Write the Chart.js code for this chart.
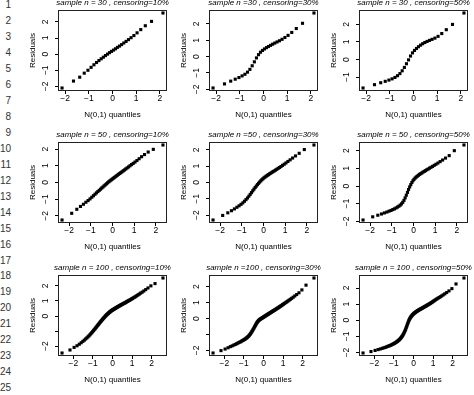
<!DOCTYPE html>
<html>
<head>
<meta charset="utf-8">
<script src="https://cdn.jsdelivr.net/npm/chart.js@4"></script>
<style>
  body { margin: 0; background: #fff; }
  #page { position: relative; width: 474px; height: 395px; overflow: hidden; background: #fff; }
  #page canvas { position: absolute; }
  #lines {
    position: absolute; left: 0; top: -3px; width: 11px; text-align: right;
    font-family: 'Liberation Sans', Arial, sans-serif; font-size: 10px; line-height: 15.97px; color: #333;
  }
</style>
</head>
<body>
<div id="page"><div id="lines"></div></div>
<script>
// manuscript line numbers down the left margin
const lineNumbers = ['1', '2', '3', '4', '5', '6', '7', '8', '9', '10', '11', '12', '13',
    '14', '15', '16', '17', '18', '19', '20', '21', '22', '23', '24', '25'];

const titles = [
    'sample n = 30 , censoring=10%', 'sample n =30 , censoring=30%', 'sample n = 30 , censoring=50%',
    'sample n = 50 , censoring=10%', 'sample n =50 , censoring=30%', 'sample n = 50 , censoring=50%',
    'sample n = 100 , censoring=10%', 'sample n =100 , censoring=30%', 'sample n = 100 , censoring=50%'
];

const tickValues = [-2, -1, 0, 1, 2];

// theoretical N(0,1) quantiles
const q30 = [-2.128, -1.645, -1.383, -1.192, -1.036, -0.903, -0.783, -0.674, -0.573, -0.477,
    -0.385, -0.297, -0.210, -0.126, -0.042, 0.042, 0.126, 0.210, 0.297, 0.385,
    0.477, 0.573, 0.674, 0.783, 0.903, 1.036, 1.192, 1.383, 1.645, 2.128];

const q50 = [-2.326, -1.881, -1.645, -1.476, -1.341, -1.227, -1.126, -1.036, -0.954, -0.878,
    -0.806, -0.739, -0.674, -0.613, -0.553, -0.496, -0.440, -0.385, -0.332, -0.279,
    -0.228, -0.176, -0.126, -0.075, -0.025, 0.025, 0.075, 0.126, 0.176, 0.228,
    0.279, 0.332, 0.385, 0.440, 0.496, 0.553, 0.613, 0.674, 0.739, 0.806,
    0.878, 0.954, 1.036, 1.126, 1.227, 1.341, 1.476, 1.645, 1.881, 2.326];

const q100 = [-2.576, -2.170, -1.960, -1.812, -1.695, -1.598, -1.514, -1.440, -1.372, -1.311,
    -1.254, -1.200, -1.150, -1.103, -1.058, -1.015, -0.974, -0.935, -0.896, -0.860,
    -0.824, -0.789, -0.755, -0.722, -0.690, -0.659, -0.628, -0.598, -0.568, -0.539,
    -0.510, -0.482, -0.454, -0.426, -0.399, -0.372, -0.345, -0.319, -0.292, -0.266,
    -0.240, -0.215, -0.189, -0.164, -0.138, -0.113, -0.088, -0.063, -0.038, -0.013,
    0.013, 0.038, 0.063, 0.088, 0.113, 0.138, 0.164, 0.189, 0.215, 0.240,
    0.266, 0.292, 0.319, 0.345, 0.372, 0.399, 0.426, 0.454, 0.482, 0.510,
    0.539, 0.568, 0.598, 0.628, 0.659, 0.690, 0.722, 0.755, 0.789, 0.824,
    0.860, 0.896, 0.935, 0.974, 1.015, 1.058, 1.103, 1.150, 1.200, 1.254,
    1.311, 1.372, 1.440, 1.514, 1.598, 1.695, 1.812, 1.960, 2.170, 2.576];

// sorted residuals
const res30_10 = [-2.10, -1.67, -1.43, -1.18, -1.00, -0.82, -0.66, -0.52, -0.40, -0.29,
    -0.19, -0.09, 0.00, 0.09, 0.17, 0.25, 0.33, 0.42, 0.50, 0.59,
    0.69, 0.79, 0.90, 1.02, 1.15, 1.32, 1.52, 1.76, 2.03, 2.55];
const res30_30 = [-1.92, -1.67, -1.50, -1.38, -1.28, -1.18, -1.08, -0.95, -0.78, -0.56,
    -0.32, -0.08, 0.12, 0.27, 0.38, 0.47, 0.55, 0.62, 0.69, 0.76,
    0.83, 0.90, 0.97, 1.06, 1.17, 1.30, 1.48, 1.72, 2.04, 2.67];
const res30_50 = [-1.62, -1.43, -1.32, -1.24, -1.17, -1.10, -1.02, -0.92, -0.80, -0.64,
    -0.45, -0.24, -0.02, 0.20, 0.38, 0.52, 0.63, 0.73, 0.82, 0.90,
    0.97, 1.03, 1.09, 1.15, 1.22, 1.32, 1.48, 1.70, 2.00, 2.65];

const res50_10 = [-2.24, -1.84, -1.60, -1.43, -1.30, -1.18, -1.08, -0.98, -0.88, -0.79,
    -0.70, -0.62, -0.54, -0.47, -0.40, -0.33, -0.27, -0.20, -0.14, -0.08,
    -0.02, 0.04, 0.09, 0.14, 0.19, 0.24, 0.29, 0.34, 0.39, 0.44,
    0.49, 0.54, 0.59, 0.64, 0.70, 0.75, 0.81, 0.87, 0.93, 1.00,
    1.07, 1.14, 1.22, 1.31, 1.42, 1.54, 1.67, 1.82, 1.98, 2.24];
const res50_30 = [-2.30, -2.02, -1.86, -1.73, -1.62, -1.52, -1.43, -1.34, -1.25, -1.15,
    -1.05, -0.95, -0.84, -0.73, -0.62, -0.51, -0.41, -0.31, -0.22, -0.13,
    -0.05, 0.03, 0.10, 0.17, 0.23, 0.29, 0.34, 0.39, 0.44, 0.48,
    0.53, 0.57, 0.62, 0.67, 0.71, 0.76, 0.81, 0.87, 0.92, 0.98,
    1.05, 1.12, 1.20, 1.29, 1.39, 1.50, 1.63, 1.79, 2.02, 2.30];
const res50_50 = [-1.92, -1.74, -1.65, -1.58, -1.52, -1.47, -1.42, -1.38, -1.33, -1.29,
    -1.24, -1.19, -1.14, -1.08, -1.01, -0.92, -0.81, -0.67, -0.52, -0.36,
    -0.20, -0.05, 0.08, 0.20, 0.30, 0.38, 0.45, 0.51, 0.56, 0.61,
    0.66, 0.70, 0.74, 0.79, 0.83, 0.87, 0.92, 0.96, 1.01, 1.06,
    1.11, 1.17, 1.23, 1.30, 1.38, 1.47, 1.58, 1.72, 2.00, 2.32];

const res100_10 = [-2.45, -2.25, -2.08, -1.97, -1.87, -1.77, -1.68, -1.60, -1.52, -1.45,
    -1.38, -1.31, -1.24, -1.17, -1.10, -1.04, -0.97, -0.91, -0.85, -0.79,
    -0.73, -0.67, -0.62, -0.56, -0.51, -0.46, -0.41, -0.36, -0.31, -0.27,
    -0.22, -0.18, -0.14, -0.10, -0.06, -0.02, 0.02, 0.05, 0.09, 0.12,
    0.15, 0.18, 0.21, 0.24, 0.27, 0.29, 0.32, 0.34, 0.37, 0.39,
    0.41, 0.43, 0.45, 0.47, 0.49, 0.51, 0.53, 0.55, 0.57, 0.59,
    0.61, 0.63, 0.65, 0.67, 0.69, 0.71, 0.73, 0.75, 0.77, 0.79,
    0.81, 0.83, 0.85, 0.87, 0.89, 0.92, 0.94, 0.97, 0.99, 1.02,
    1.04, 1.07, 1.10, 1.13, 1.16, 1.20, 1.23, 1.27, 1.31, 1.36,
    1.41, 1.46, 1.52, 1.58, 1.66, 1.75, 1.86, 2.00, 2.15, 2.52];
const res100_30 = [-2.17, -2.02, -1.92, -1.84, -1.77, -1.72, -1.67, -1.63, -1.59, -1.55,
    -1.51, -1.48, -1.45, -1.41, -1.38, -1.35, -1.32, -1.29, -1.25, -1.22,
    -1.18, -1.14, -1.10, -1.05, -1.00, -0.95, -0.89, -0.83, -0.77, -0.71,
    -0.65, -0.59, -0.52, -0.46, -0.40, -0.34, -0.28, -0.23, -0.19, -0.15,
    -0.12, -0.09, -0.06, -0.04, -0.02, 0.00, 0.02, 0.04, 0.06, 0.08,
    0.10, 0.12, 0.14, 0.16, 0.18, 0.20, 0.22, 0.24, 0.26, 0.28,
    0.30, 0.32, 0.34, 0.36, 0.38, 0.40, 0.43, 0.45, 0.47, 0.49,
    0.51, 0.53, 0.56, 0.58, 0.61, 0.63, 0.66, 0.68, 0.71, 0.74,
    0.77, 0.80, 0.83, 0.87, 0.90, 0.94, 0.98, 1.02, 1.06, 1.11,
    1.16, 1.21, 1.27, 1.34, 1.42, 1.51, 1.62, 1.80, 2.10, 2.55];
const res100_50 = [-2.03, -1.94, -1.87, -1.82, -1.78, -1.74, -1.71, -1.68, -1.65, -1.62,
    -1.59, -1.57, -1.54, -1.51, -1.48, -1.46, -1.43, -1.40, -1.37, -1.34,
    -1.31, -1.27, -1.24, -1.20, -1.16, -1.12, -1.07, -1.02, -0.97, -0.91,
    -0.85, -0.78, -0.71, -0.63, -0.55, -0.46, -0.37, -0.28, -0.19, -0.11,
    -0.03, 0.04, 0.10, 0.15, 0.20, 0.24, 0.28, 0.32, 0.35, 0.38,
    0.41, 0.44, 0.46, 0.48, 0.51, 0.53, 0.55, 0.57, 0.59, 0.61,
    0.63, 0.65, 0.67, 0.69, 0.70, 0.72, 0.74, 0.76, 0.78, 0.80,
    0.82, 0.84, 0.86, 0.88, 0.90, 0.93, 0.95, 0.97, 1.00, 1.02,
    1.05, 1.08, 1.11, 1.14, 1.18, 1.21, 1.25, 1.29, 1.33, 1.37,
    1.41, 1.46, 1.51, 1.57, 1.64, 1.72, 1.82, 1.96, 2.25, 2.62];

const panels = [
    { title: titles[0], x: q30, y: res30_10, hideY: [] },
    { title: titles[1], x: q30, y: res30_30, hideY: [] },
    { title: titles[2], x: q30, y: res30_50, hideY: [] },
    { title: titles[3], x: q50, y: res50_10, hideY: [] },
    { title: titles[4], x: q50, y: res50_30, hideY: [] },
    { title: titles[5], x: q50, y: res50_50, hideY: [] },
    { title: titles[6], x: q100, y: res100_10, hideY: [-1] },
    { title: titles[7], x: q100, y: res100_30, hideY: [-1] },
    { title: titles[8], x: q100, y: res100_50, hideY: [] }
];

document.getElementById('lines').innerHTML = lineNumbers.join('<br>');

Chart.defaults.font.family = "'Liberation Sans', Arial, Helvetica, sans-serif";
Chart.defaults.color = '#000';

const ink = '#000';

// R-style box around the plot region
const plotBox = {
    id: 'plotBox',
    afterDraw(chart) {
        const a = chart.chartArea;
        const ctx = chart.ctx;
        ctx.save();
        ctx.strokeStyle = '#222';
        ctx.lineWidth = 1;
        ctx.strokeRect(Math.round(a.left) + 0.5, Math.round(a.top) + 0.5,
            Math.round(a.right - a.left) - 1, Math.round(a.bottom - a.top) - 1);
        ctx.restore();
    }
};

// R default: data range extended by 4% on each side
function padRange(values) {
    const lo = Math.min(...values);
    const hi = Math.max(...values);
    const d = (hi - lo) * 0.04;
    return [lo - d, hi + d];
}

function tickText(v) {
    return v < 0 ? '\u2212' + Math.abs(v) : String(v);
}

function setTicks(scale) {
    scale.ticks = tickValues.filter(v => v >= scale.min && v <= scale.max).map(v => ({ value: v }));
}

const page = document.getElementById('page');
const colLeft = [58, 209, 359];
const rowTop = [10, 142, 275];
const boxW = 109, boxH = 81;
const padL = 30, padR = 30, padT = 12, padB = 29;

panels.forEach((p, i) => {
    const canvas = document.createElement('canvas');
    canvas.width = padL + boxW + padR;
    canvas.height = padT + boxH + padB;
    canvas.style.left = (colLeft[i % 3] - padL) + 'px';
    canvas.style.top = (rowTop[Math.floor(i / 3)] - padT) + 'px';
    page.appendChild(canvas);

    const xr = padRange(p.x);
    const yr = padRange(p.y);

    new Chart(canvas, {
        type: 'scatter',
        data: {
            datasets: [{
                data: p.x.map((v, k) => ({ x: v, y: p.y[k] })),
                pointStyle: 'rect',
                pointRadius: 2.2,
                backgroundColor: ink,
                borderWidth: 0
            }]
        },
        options: {
            responsive: false,
            animation: false,
            events: [],
            layout: { padding: 0 },
            plugins: {
                legend: { display: false },
                tooltip: { enabled: false },
                title: {
                    display: true,
                    text: p.title,
                    color: ink,
                    font: { size: 8, style: 'italic', weight: 'normal' },
                    padding: { top: 0, bottom: 2.4 }
                }
            },
            scales: {
                x: {
                    type: 'linear',
                    position: 'bottom',
                    min: xr[0],
                    max: xr[1],
                    afterBuildTicks: setTicks,
                    afterFit: s => { s.height = padB; },
                    ticks: { font: { size: 8.5 }, color: ink, padding: 0, maxRotation: 0, autoSkip: false, callback: tickText },
                    grid: { drawOnChartArea: false, drawTicks: true, tickLength: 3, color: ink, tickColor: ink },
                    border: { display: false },
                    title: { display: true, text: 'N(0,1) quantiles', color: ink, font: { size: 8 }, padding: 0 }
                },
                y: {
                    type: 'linear',
                    position: 'left',
                    min: yr[0],
                    max: yr[1],
                    afterBuildTicks: setTicks,
                    afterFit: s => { s.width = padL; },
                    ticks: {
                        font: { size: 8.5 }, color: ink, padding: 4, minRotation: 90, maxRotation: 90,
                        crossAlign: 'center', autoSkip: false,
                        callback: v => p.hideY.includes(v) ? '' : tickText(v)
                    },
                    grid: { drawOnChartArea: false, drawTicks: true, tickLength: 3, color: ink, tickColor: ink },
                    border: { display: false },
                    title: { display: true, text: 'Residuals', color: ink, font: { size: 8 }, padding: 0 }
                },
                // empty right-hand strip so the title centres over the plot box
                y2: {
                    position: 'right',
                    grid: { display: false },
                    ticks: { display: false },
                    border: { display: false },
                    afterFit: s => { s.width = padR; }
                }
            }
        },
        plugins: [plotBox]
    });
});
</script>
</body>
</html>
